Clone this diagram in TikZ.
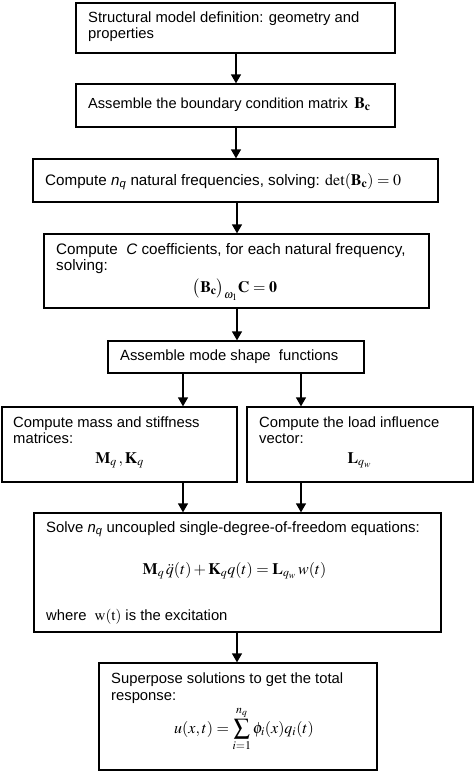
\documentclass[tikz,border=0pt]{standalone}
\usepackage{mathptmx}
\usepackage[no-math]{fontspec}
\setmainfont{Liberation Sans}
\usetikzlibrary{arrows.meta}
\begin{document}
\begin{tikzpicture}[x=1pt,y=-1pt,
  box/.style={draw, line width=1.3pt, inner sep=0pt, rectangle},
  arr/.style={line width=1.3pt, -{Triangle[length=9pt,width=10pt]}},
  txt/.style={anchor=base west, inner sep=0pt, font=\fontsize{14.8}{16.5}\selectfont},
  mth/.style={anchor=base, inner sep=0pt, font=\fontsize{16}{18}\selectfont}]
\useasboundingbox[fill=white] (0,0) rectangle (474,772);
% boxes
\node[box, minimum width=319pt, minimum height=50pt] (b1) at (235.5,28) {};
\node[box, minimum width=319pt, minimum height=43pt] (b2) at (235.5,105.5) {};
\node[box, minimum width=405pt, minimum height=43pt] (b3) at (235.5,180.5) {};
\node[box, minimum width=385pt, minimum height=74pt] (b4) at (236.5,271) {};
\node[box, minimum width=256pt, minimum height=32pt] (b5) at (236,357) {};
\node[box, minimum width=235pt, minimum height=75pt] (b6) at (119.5,444.5) {};
\node[box, minimum width=226pt, minimum height=75pt] (b7) at (360,444.5) {};
\node[box, minimum width=407pt, minimum height=119pt] (b8) at (237.5,572.5) {};
\node[box, minimum width=278pt, minimum height=107pt] (b9) at (238,716.5) {};
% helper x positions
\coordinate (xC) at (236,0);
\coordinate (xD) at (237,0);
\coordinate (xL) at (183,0);
\coordinate (xR) at (301,0);
% connectors
\draw[arr] (b1.south -| xC) -- (b2.north -| xC);
\draw[arr] (b2.south -| xC) -- (b3.north -| xC);
\draw[arr] (b3.south -| xD) -- (b4.north -| xD);
\draw[arr] (b4.south -| xD) -- (b5.north -| xD);
\draw[arr] (b5.south -| xL) -- (b6.north -| xL);
\draw[arr] (b5.south -| xR) -- (b7.north -| xR);
\draw[arr] (b6.south -| xL) -- (b8.north -| xL);
\draw[arr] (b7.south -| xR) -- (b8.north -| xR);
\draw[arr] (b8.south -| xD) -- (b9.north -| xD);
% texts
\node[txt] (t1a) at (88,22.5) {Structural model definition: geometry and};
\node[txt] (t1b) at (88,38.5) {properties};
\node[txt, font=\fontsize{14.6}{16.5}\selectfont] (t2) at (88,108) {Assemble the boundary condition matrix};
\node[mth, anchor=base west] (m2) at ([xshift=6pt]t2.base east) {$\mathbf{B}_{\mathbf{c}}$};
\node[txt, font=\fontsize{15.2}{17}\selectfont] (t3) at (45,185) {Compute \textit{n}\textsubscript{\textit{q}} natural frequencies, solving:};
\node[mth, anchor=base west] (m3) at ([xshift=5pt]t3.base east) {$\det(\mathbf{B}_{\mathbf{c}})=0$};
\node[txt, font=\fontsize{15.2}{17}\selectfont] (t4a) at (56,254) {Compute\ \ \textit{C} coefficients, for each natural frequency,};
\node[txt, font=\fontsize{15.2}{17}\selectfont] (t4b) at (56,270) {solving:};
\node[mth] (m4) at (235,292) {$\bigl(\mathbf{B}_{\mathbf{c}}\bigr)_{\omega_1}\mathbf{C}=\mathbf{0}$};
\node[txt] (t5) at (120,360) {Assemble mode shape\ \ functions};
\node[txt] (t6a) at (13,427) {Compute mass and stiffness};
\node[txt] (t6b) at (13,443) {matrices:};
\node[mth] (m6) at (119.5,463) {$\mathbf{M}_q\,,\mathbf{K}_q$};
\node[txt] (t7a) at (259,427) {Compute the load influence};
\node[txt] (t7b) at (259,443) {vector:};
\node[mth] (m7) at (359.5,463) {$\mathbf{L}_{q_w}$};
\node[txt, font=\fontsize{14.9}{17}\selectfont] (t8a) at (46,532) {Solve \textit{n}\textsubscript{\textit{q}} uncoupled single-degree-of-freedom equations:};
\node[mth] (m8) at (234.5,574) {$\mathbf{M}_q\,\ddot{q}(t)+\mathbf{K}_q q(t)=\mathbf{L}_{q_w}\,w(t)$};
\node[txt] (t8b) at (46,620) {where\ \ {\fontsize{15}{17}\selectfont$\mathrm{w(t)}$} is the excitation};
\node[txt] (t9a) at (111,683) {Superpose solutions to get the total};
\node[txt] (t9b) at (111,700) {response:};
\node[mth] (m9) at (244,733) {$\displaystyle u(x,t)=\sum_{i=1}^{n_q}\phi_i(x)q_i(t)$};
\end{tikzpicture}
\end{document}
